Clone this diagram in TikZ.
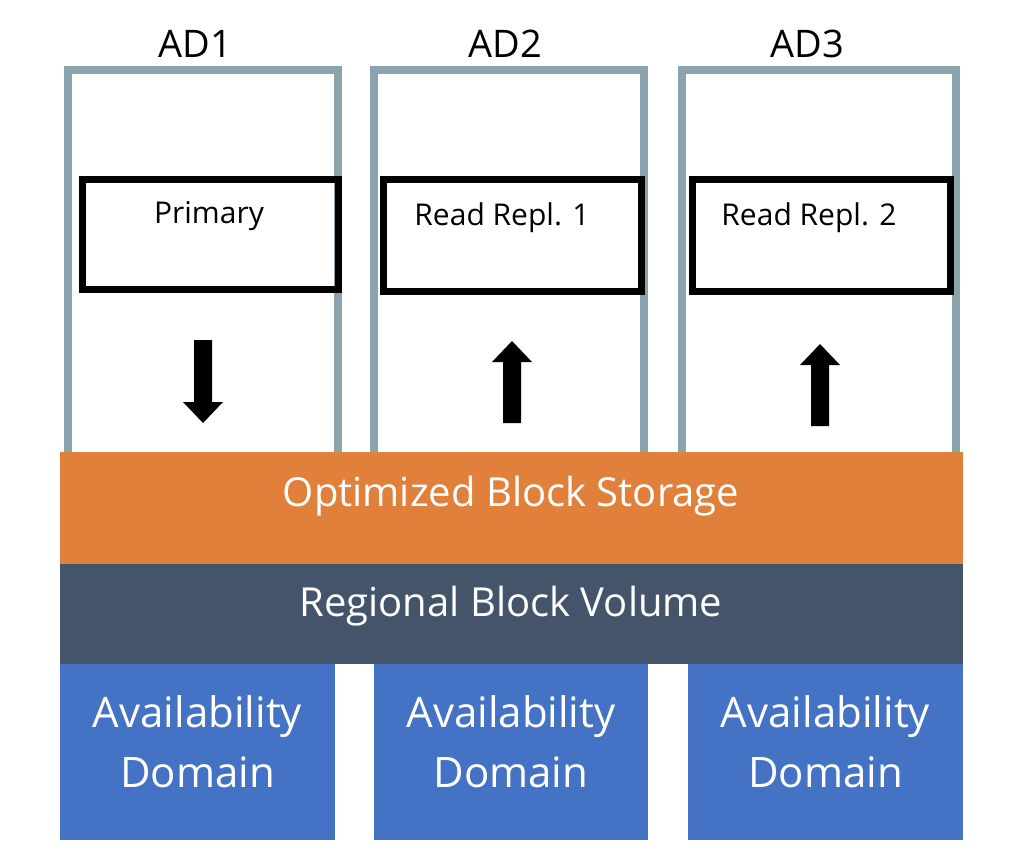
\documentclass[tikz,border=0pt]{standalone}
\usepackage{fontspec}
\setmainfont{Open Sans}
\begin{document}
\begin{tikzpicture}[x=1pt,y=-1pt,
  col/.style={draw=colgray,line width=8pt},
  inst/.style={draw=black,line width=7pt,align=center},
  lbl/.style={font=\fontsize{30}{34}\selectfont},
  bar/.style={draw=none,text=white,font=\fontsize{40}{44}\selectfont},
  ad/.style={text=white,align=center,font=\fontsize{42}{60}\selectfont},
  arr/.style={fill=black}]
\definecolor{colgray}{HTML}{8AA3AC}
\definecolor{obsor}{HTML}{E0803A}
\definecolor{rbv}{HTML}{44546A}
\definecolor{adblue}{HTML}{4472C4}
\useasboundingbox (0,0) rectangle (1024,852);
% columns
\foreach \n/\a/\b/\cx in {1/68/338/195,2/374/644/505,3/682/956/807}{
  \draw[col] (\a,70) rectangle (\b,460);
  \node[font=\fontsize{38}{42}\selectfont] (t\n) at (\cx,44) {AD\n};
}
\draw[inst] (82,179) rectangle (338,289);
\node[lbl] (p) at (209,216) {Primary};
\draw[inst] (383,179) rectangle (641,291);
\node[lbl] (r1) at (502,218) {Read Repl. 1};
\draw[inst] (692,179) rectangle (950,291);
\node[lbl] (r2) at (809,218) {Read Repl. 2};
% arrows
\fill[arr] (194,340) -- (212,340) -- (212,402) -- (223,402) -- (203,423) -- (183,402) -- (194,402) -- cycle;
\fill[arr] (503,423) -- (521,423) -- (521,362) -- (532,362) -- (512,341) -- (492,362) -- (503,362) -- cycle;
\fill[arr] (811,426) -- (829,426) -- (829,365) -- (840,365) -- (820,344) -- (800,365) -- (811,365) -- cycle;
% bars
\fill[obsor] (60,452) rectangle (963,564);
\node[bar] (obs) at (511,496) {Optimized Block Storage};
\fill[rbv] (60,564) rectangle (963,664);
\node[bar] (rbvn) at (511,606) {Regional Block Volume};
\foreach \n/\a/\b in {1/60/335,2/374/648,3/688/963}{
  \fill[adblue] (\a,664) rectangle (\b,840);
  \node[ad] (d\n) at ({(\a+\b)/2},742) {Availability\\Domain};
}
\end{tikzpicture}
\end{document}
